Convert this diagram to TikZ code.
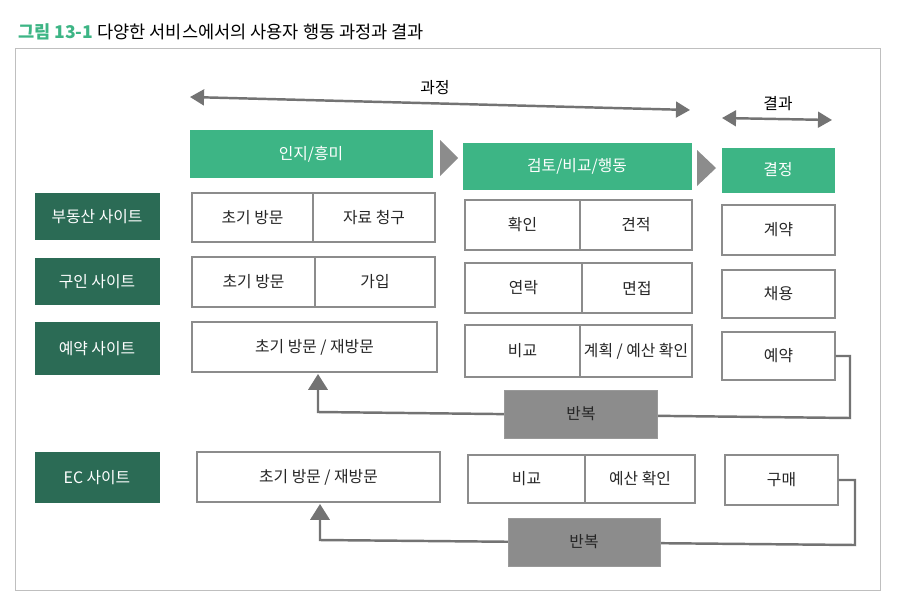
\documentclass[tikz,border=0pt]{standalone}
\usepackage{fontspec}
\setmainfont{Noto Sans CJK KR}
\usetikzlibrary{arrows.meta}
\definecolor{hg}{HTML}{3DB585}
\definecolor{dg}{HTML}{2B6B55}
\definecolor{lg}{HTML}{8C8C8C}
\tikzset{
 bx/.style={draw=black!45,fill=white,line width=0.6pt,font=\small,text=black!85},
 rp/.style={fill=lg,draw=black!40,text=black!85,font=\small},
 ln/.style={draw=black!55,line width=1.4pt},
 ar/.style={ln,-{Triangle[length=9pt,width=11pt]}},
 tri/.style={fill=black!45,draw=none},
}
\begin{document}
\begin{tikzpicture}[x=0.02cm,y=-0.02cm]
\useasboundingbox (0,0) rectangle (901,598);
\fill[white] (0,0) rectangle (901,598);
\node[anchor=west,font=\normalsize] (title) at (12,32) {\textcolor{hg}{\textbf{그림 13-1}} 다양한 서비스에서의 사용자 행동 과정과 결과};
\draw[black!25] (15,48) rectangle (880,590);
% top arrows
\coordinate (p1) at (190,97); \coordinate (p2) at (690,110);
\draw[ln,{Triangle[length=8pt,width=9pt]}-{Triangle[length=8pt,width=9pt]}] (p1) -- (p2);
\node[font=\small] (pl) at (435,88) {과정};
\coordinate (r1) at (722,118); \coordinate (r2) at (832,120);
\draw[ln,{Triangle[length=8pt,width=9pt]}-{Triangle[length=8pt,width=9pt]}] (r1) -- (r2);
\node[font=\small] (rl) at (778,104) {결과};
% headers
\fill[hg] (190,130) rectangle (433,178); \node[text=white,font=\small] (h1t) at (311,154) {인지/흥미};
\fill[hg] (463,143) rectangle (692,190); \node[text=white,font=\small] (h2t) at (577,166) {검토/비교/행동};
\fill[hg] (722,148) rectangle (835,193); \node[text=white,font=\small] (h3t) at (778,170) {결정};
\fill[tri] (440,140) -- (458,158) -- (440,176) -- cycle;
\fill[tri] (697,150) -- (716,168) -- (697,186) -- cycle;
% left labels
\foreach \n/\t/\a/\b in {l1/{부동산 사이트}/193/240, l2/{구인 사이트}/258/305, l3/{예약 사이트}/322/375, l4/{EC 사이트}/452/503}{
 \fill[dg] (35,\a) rectangle (160,\b);
 \node[text=white,font=\small] (\n) at (97,{(\a+\b)/2}) {\t};
}
% boxes
\foreach \n/\t/\xa/\ya/\xb/\yb in {
 a1/{초기 방문}/192/193/313/242, a2/{자료 청구}/313/193/435/242,
 a3/{확인}/465/200/580/250, a4/{견적}/580/200/692/250, a5/{계약}/722/205/835/255,
 b1/{초기 방문}/192/257/315/307, b2/{가입}/315/257/435/307,
 b3/{연락}/465/263/582/313, b4/{면접}/582/263/692/313, b5/{채용}/722/270/835/318,
 c1/{초기 방문 {/} 재방문}/192/322/437/372, c3/{비교}/465/325/580/377,
 c4/{계획 {/} 예산 확인}/580/325/692/377, c5/{예약}/722/332/835/380,
 d1/{초기 방문 {/} 재방문}/197/452/440/502, d3/{비교}/468/455/585/503,
 d4/{예산 확인}/585/455/695/503, d5/{구매}/725/455/838/505}{
 \node[bx,inner sep=0pt,minimum width={(\xb-\xa)*0.02cm},minimum height={(\yb-\ya)*0.02cm}] (\n) at ({(\xa+\xb)/2},{(\ya+\yb)/2}) {\t};
}
% loops
\draw[ar] (c5.east) -- (850,356) -- (850,418) -- (318,412) -- (318,374);
\node[rp,minimum width=3.06cm,minimum height=0.96cm] (rp1) at (581,414) {반복};
\draw[ar] (d5.east) -- (855,480) -- (855,545) -- (320,540) -- (320,504);
\node[rp,minimum width=3.04cm,minimum height=0.96cm] (rp2) at (584,542) {반복};
\end{tikzpicture}
\end{document}
